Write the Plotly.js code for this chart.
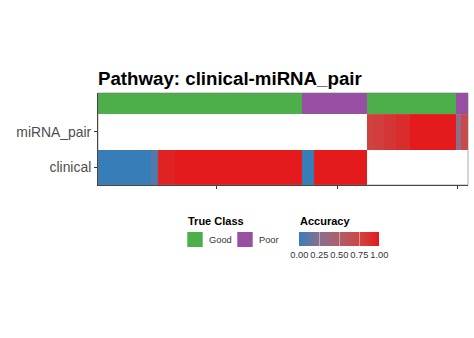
<!DOCTYPE html>
<html><head><meta charset="utf-8">
<script src="https://cdn.plot.ly/plotly-3.0.1.min.js"></script>
<style>html,body{margin:0;padding:0;background:#fff}#chart{width:474px;height:338px}</style>
</head><body><div id="chart"></div>
<script>
// ---- data ----
const G = "Good", P = "Poor";
const TRUE_CLASS = [
  G,G,G,G,G,G,G,G,G,G, G,G,G,G,G,G,G,G,G,G, G,G,G,G,G,G,G,G,G,G, G,G,G,G,G,G,G,G,G,G,
  G,G,G,G,G,G,G,G,G,G, G,G,G,G,G,G,G,G,G,G, G,G,G,G,G,G,G,G,G,G, G,G,G,G,G,G,G,G,G,G,
  G,G,G,G,G,P,P,P,P,P, P,P,P,P,P,P,P,P,P,P, P,P,P,P,P,P,P,P,P,P, P,P,G,G,G,G,G,G,G,G,
  G,G,G,G,G,G,G,G,G,G, G,G,G,G,G,G,G,G,G,G, G,G,G,G,G,G,G,G,G,P, P,P,P,P
];
const CLINICAL = [
  0,0,0,0,0,0,0,0,0,0, 0,0,0,0,0,0,0,0,0,0, 0,0,0.08,0.08,0.08,0.95,0.95,0.95,0.95,0.95,
  0.95,0.95,1,1,1,1,1,1,1,1, 1,1,1,1,1,1,1,1,1,1, 1,1,1,1,1,1,1,1,1,1,
  1,1,1,1,1,1,1,1,1,1, 1,1,1,1,1,1,1,1,1,1, 1,1,1,1,1,0,0,0,0,0,
  1,1,1,1,1,1,1,1,1,1, 1,1,1,1,1,1,1,1,1,1, 1,1,null,null,null,null,null,null,null,null,
  null,null,null,null,null,null,null,null,null,null, null,null,null,null,null,null,null,null,null,null,
  null,null,null,null,null,null,null,null,null,null, null,null,null,null
];
const MIRNA_PAIR = [
  null,null,null,null,null,null,null,null,null,null, null,null,null,null,null,null,null,null,null,null,
  null,null,null,null,null,null,null,null,null,null, null,null,null,null,null,null,null,null,null,null,
  null,null,null,null,null,null,null,null,null,null, null,null,null,null,null,null,null,null,null,null,
  null,null,null,null,null,null,null,null,null,null, null,null,null,null,null,null,null,null,null,null,
  null,null,null,null,null,null,null,null,null,null, null,null,null,null,null,null,null,null,null,null,
  null,null,null,null,null,null,null,null,null,null,
  null,null,0.78,0.78,0.78,0.8,0.8,0.8,0.8,0.85,
  0.85,0.85,0.85,0.85,0.9,0.9,0.9,0.9,0.9,0.9,
  1,1,1,1,1,1,1,1,1,1, 1,1,1,1,1,1,1,1,1,0.3,
  0.3,0.72,0.72,0.72
];
const ROWS = ["clinical", "miRNA_pair"];
const CLASS_LEVELS = ["Good", "Poor"];
const X_TICKS = [50, 100, 150];
const ACC_TICKS = [0, 0.25, 0.5, 0.75, 1];
const ACC_LABELS = ["0.00", "0.25", "0.50", "0.75", "1.00"];

// ---- styling ----
const FONT = "Liberation Sans, Arial, Helvetica, sans-serif";
const CLASS_COLORS = {Good: "#4DAF4A", Poor: "#984EA3"};
const ACC_SCALE = [[0, "#377EB8"], [0.25, "#87708F"], [0.5, "#AF5E6A"], [0.75, "#CC4745"], [1, "#E41A1C"]];
const SAMPLE = TRUE_CLASS.map((_, i) => i + 1);
const classCode = TRUE_CLASS.map(c => CLASS_LEVELS.indexOf(c));

const PL = 98, PR = 468, PT = 93, PB = 185;
const px = v => (v - PL) / (PR - PL);
const py = v => (PB - v) / (PB - PT);

const traces = [
  {
    type: "heatmap", x: SAMPLE, y: ROWS, z: [CLINICAL, MIRNA_PAIR],
    colorscale: ACC_SCALE, zmin: 0, zmax: 1, xaxis: "x", yaxis: "y",
    hoverongaps: false,
    colorbar: {
      orientation: "h", x: px(339.3), xanchor: "center", y: py(232.3), yanchor: "top",
      len: 80, lenmode: "pixels", thickness: 14, thicknessmode: "pixels",
      xpad: 0, ypad: 0, outlinewidth: 0,
      tickvals: ACC_TICKS, ticktext: ACC_LABELS, ticks: "inside", ticklen: 14,
      tickcolor: "rgba(255,255,255,0.4)", tickwidth: 1, tickangle: 0,
      tickfont: {family: FONT, size: 9.3, color: "#333333"}
    }
  },
  {
    type: "heatmap", x: SAMPLE, y: ["True Class"], z: [classCode],
    colorscale: [[0, CLASS_COLORS.Good], [0.5, CLASS_COLORS.Good], [0.5, CLASS_COLORS.Poor], [1, CLASS_COLORS.Poor]],
    zmin: 0, zmax: 1, showscale: false, xaxis: "x", yaxis: "y2"
  }
];

const layout = {
  width: 474, height: 338,
  margin: {l: PL, r: 474 - PR, t: PT, b: 338 - PB, pad: 0},
  paper_bgcolor: "#ffffff", plot_bgcolor: "#ffffff",
  font: {family: FONT, color: "#333333"},
  showlegend: false,
  title: {
    text: "<b>Pathway: clinical-miRNA_pair</b>",
    font: {family: FONT, size: 18.7, color: "#000000"},
    x: 0, xref: "paper", xanchor: "left",
    y: 1 - 78 / 338, yref: "container", yanchor: "middle"
  },
  xaxis: {
    range: [0.5, SAMPLE.length + 0.5], showgrid: false, zeroline: false,
    showline: true, linecolor: "#333333", linewidth: 1,
    ticks: "outside", tickvals: X_TICKS, ticklen: 3, tickcolor: "#333333",
    showticklabels: false, fixedrange: true
  },
  yaxis: {
    domain: [0, 0.771], showgrid: false, zeroline: false,
    showline: true, linecolor: "#333333", linewidth: 1,
    ticks: "outside", ticklen: 3, tickcolor: "#333333",
    tickfont: {family: FONT, size: 13.9, color: "#4D4D4D"}, fixedrange: true
  },
  yaxis2: {
    domain: [0.771, 1], anchor: "x", showgrid: false, zeroline: false,
    showline: true, linecolor: "#333333", linewidth: 1,
    ticks: "", showticklabels: false, fixedrange: true
  },
  shapes: [
    {type: "rect", xref: "paper", yref: "paper", x0: 0, x1: 1, y0: 0, y1: 1,
     line: {color: "#777777", width: 0.6}, fillcolor: "rgba(0,0,0,0)"},
    {type: "rect", xref: "paper", yref: "paper", x0: px(187.3), x1: px(202.7), y0: py(247), y1: py(232),
     line: {width: 0}, fillcolor: CLASS_COLORS.Good},
    {type: "rect", xref: "paper", yref: "paper", x0: px(237.3), x1: px(252.7), y0: py(247), y1: py(232),
     line: {width: 0}, fillcolor: CLASS_COLORS.Poor}
  ],
  annotations: [
    {text: "<b>True Class</b>", xref: "paper", yref: "paper", x: px(186), y: py(221),
     xanchor: "left", yanchor: "middle", showarrow: false, font: {family: FONT, size: 11, color: "#000"}},
    {text: "<b>Accuracy</b>", xref: "paper", yref: "paper", x: px(298), y: py(221),
     xanchor: "left", yanchor: "middle", showarrow: false, font: {family: FONT, size: 11, color: "#000"}},
    {text: CLASS_LEVELS[0], xref: "paper", yref: "paper", x: px(207), y: py(240),
     xanchor: "left", yanchor: "middle", showarrow: false, font: {family: FONT, size: 9.3, color: "#333"}},
    {text: CLASS_LEVELS[1], xref: "paper", yref: "paper", x: px(257), y: py(240),
     xanchor: "left", yanchor: "middle", showarrow: false, font: {family: FONT, size: 9.3, color: "#333"}}
  ]
};

Plotly.newPlot("chart", traces, layout, {displayModeBar: false, staticPlot: true});
</script></body></html>
